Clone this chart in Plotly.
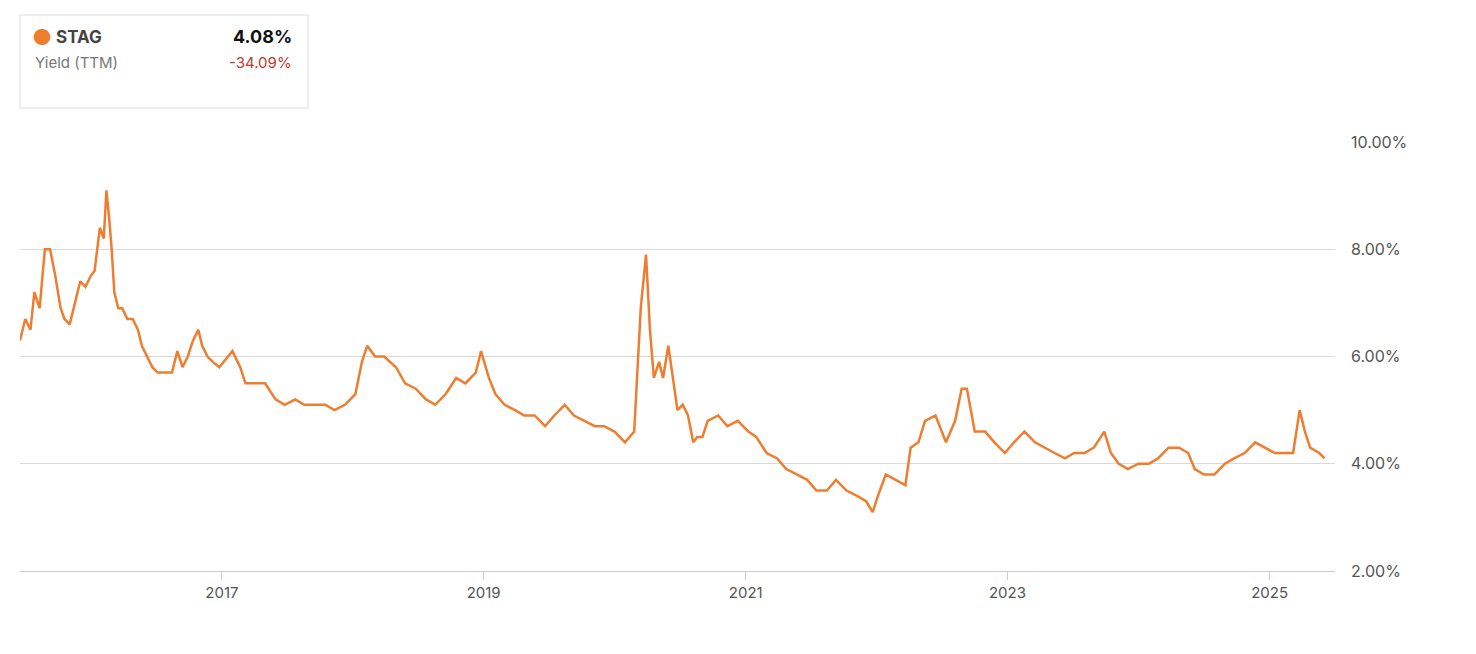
import plotly.graph_objects as go
import pandas as pd

# decimal-year positions and yield values (%)
years = [2015.46,2015.50,2015.54,2015.57,2015.61,2015.65,2015.69,2015.73,2015.77,2015.80,2015.84,2015.88,2015.92,2015.96,2016.00,2016.03,2016.07,2016.10,2016.12,2016.14,2016.16,2016.18,2016.21,2016.24,2016.28,2016.32,2016.36,2016.39,2016.43,2016.47,2016.51,2016.55,2016.58,2016.62,2016.66,2016.70,2016.74,2016.78,2016.82,2016.85,2016.89,2016.93,2016.98,2017.08,2017.14,2017.18,2017.25,2017.33,2017.41,2017.48,2017.56,2017.63,2017.71,2017.79,2017.86,2017.94,2018.02,2018.07,2018.11,2018.17,2018.24,2018.33,2018.40,2018.48,2018.56,2018.63,2018.71,2018.79,2018.86,2018.94,2018.98,2019.04,2019.09,2019.16,2019.24,2019.31,2019.39,2019.47,2019.54,2019.62,2019.69,2019.77,2019.85,2019.92,2020.00,2020.08,2020.15,2020.20,2020.24,2020.27,2020.30,2020.34,2020.37,2020.41,2020.45,2020.48,2020.52,2020.56,2020.60,2020.63,2020.67,2020.71,2020.79,2020.86,2020.94,2021.02,2021.08,2021.16,2021.24,2021.31,2021.39,2021.47,2021.54,2021.62,2021.69,2021.77,2021.85,2021.92,2021.97,2022.01,2022.07,2022.15,2022.22,2022.26,2022.32,2022.37,2022.45,2022.53,2022.60,2022.65,2022.69,2022.75,2022.83,2022.90,2022.98,2023.05,2023.13,2023.21,2023.28,2023.36,2023.44,2023.51,2023.59,2023.66,2023.74,2023.79,2023.85,2023.92,2024.00,2024.08,2024.15,2024.23,2024.31,2024.38,2024.43,2024.50,2024.58,2024.66,2024.73,2024.81,2024.89,2024.96,2025.04,2025.11,2025.18,2025.23,2025.27,2025.31,2025.38,2025.42,2025.48]
yield_ttm = [6.3,6.7,6.5,7.2,6.9,8.0,8.0,7.5,6.9,6.7,6.6,7.0,7.4,7.3,7.5,7.6,8.4,8.2,9.1,8.6,8.0,7.2,6.9,6.9,6.7,6.7,6.5,6.2,6.0,5.8,5.7,5.7,5.7,5.7,6.1,5.8,6.0,6.3,6.5,6.2,6.0,5.9,5.8,6.1,5.8,5.5,5.5,5.5,5.2,5.1,5.2,5.1,5.1,5.1,5.0,5.1,5.3,5.9,6.2,6.0,6.0,5.8,5.5,5.4,5.2,5.1,5.3,5.6,5.5,5.7,6.1,5.6,5.3,5.1,5.0,4.9,4.9,4.7,4.9,5.1,4.9,4.8,4.7,4.7,4.6,4.4,4.6,6.9,7.9,6.5,5.6,5.9,5.6,6.2,5.5,5.0,5.1,4.9,4.4,4.5,4.5,4.8,4.9,4.7,4.8,4.6,4.5,4.2,4.1,3.9,3.8,3.7,3.5,3.5,3.7,3.5,3.4,3.3,3.1,3.4,3.8,3.7,3.6,4.3,4.4,4.8,4.9,4.4,4.8,5.4,5.4,4.6,4.6,4.4,4.2,4.4,4.6,4.4,4.3,4.2,4.1,4.2,4.2,4.3,4.6,4.2,4.0,3.9,4.0,4.0,4.1,4.3,4.3,4.2,3.9,3.8,3.8,4.0,4.1,4.2,4.4,4.3,4.2,4.2,4.2,5.0,4.6,4.3,4.2,4.1]
tick_years = [2017, 2019, 2021, 2023, 2025]
y_ticks = [2, 4, 6, 8, 10]

def to_date(y):
    yr = int(y)
    start = pd.Timestamp(yr, 1, 1)
    return start + (pd.Timestamp(yr + 1, 1, 1) - start) * (y - yr)

dates = [to_date(y) for y in years]

W, H = 1476, 654
OFF = 8
L, R, T, B = 20 - OFF, 141 + OFF, 142 - OFF, 83 + OFF
pw, ph = W - L - R, H - T - B
def px(x): return (x - OFF - L) / pw
def py(y): return 1 - (y - OFF - T) / ph

fig = go.Figure(go.Scatter(x=dates, y=yield_ttm, mode="lines",
                           line=dict(color="#ee7d2f", width=2.5), hoverinfo="skip"))
fig.update_layout(
    width=W, height=H, margin=dict(l=L, r=R, t=T, b=B),
    plot_bgcolor="white", paper_bgcolor="white", showlegend=False,
    font=dict(family="Inter, Roboto, sans-serif", color="#555", size=15),
    xaxis=dict(range=[to_date(2015.46), to_date(2025.5)], tickvals=[pd.Timestamp(y, 1, 1) for y in tick_years],
               ticktext=[str(y) for y in tick_years], showgrid=False, showline=True,
               linecolor="#cccccc", ticks="outside", ticklen=8, tickcolor="#cccccc", zeroline=False),
    yaxis=dict(range=[2, 10], side="right", tickvals=y_ticks, ticktext=[f"{v:.2f}%" for v in y_ticks],
               showgrid=True, gridcolor="#d9d9d9", zeroline=False, ticklabelstandoff=15,
               tickfont=dict(size=16)),
)
fig.add_shape(type="rect", xref="paper", yref="paper", x0=px(20), x1=px(308), y0=py(108), y1=py(15),
              line=dict(color="#dddddd", width=1), fillcolor="white", layer="above")
fig.add_annotation(xref="paper", yref="paper", x=px(30), y=py(37), text="●", showarrow=False,
                   xanchor="left", yanchor="middle", font=dict(size=22, color="#ee7d2f"))
fig.add_annotation(xref="paper", yref="paper", x=px(54), y=py(37), text="<b>STAG</b>", showarrow=False,
                   xanchor="left", yanchor="middle", font=dict(size=17, color="#444"))
fig.add_annotation(xref="paper", yref="paper", x=px(294), y=py(37), text="<b>4.08%</b>", showarrow=False,
                   xanchor="right", yanchor="middle", font=dict(size=18, color="#111"))
fig.add_annotation(xref="paper", yref="paper", x=px(33), y=py(63), text="Yield (TTM)", showarrow=False,
                   xanchor="left", yanchor="middle", font=dict(size=15, color="#777"))
fig.add_annotation(xref="paper", yref="paper", x=px(294), y=py(62), text="-34.09%", showarrow=False,
                   xanchor="right", yanchor="middle", font=dict(size=15, color="#c0392b"))
fig.write_html("out.html")
